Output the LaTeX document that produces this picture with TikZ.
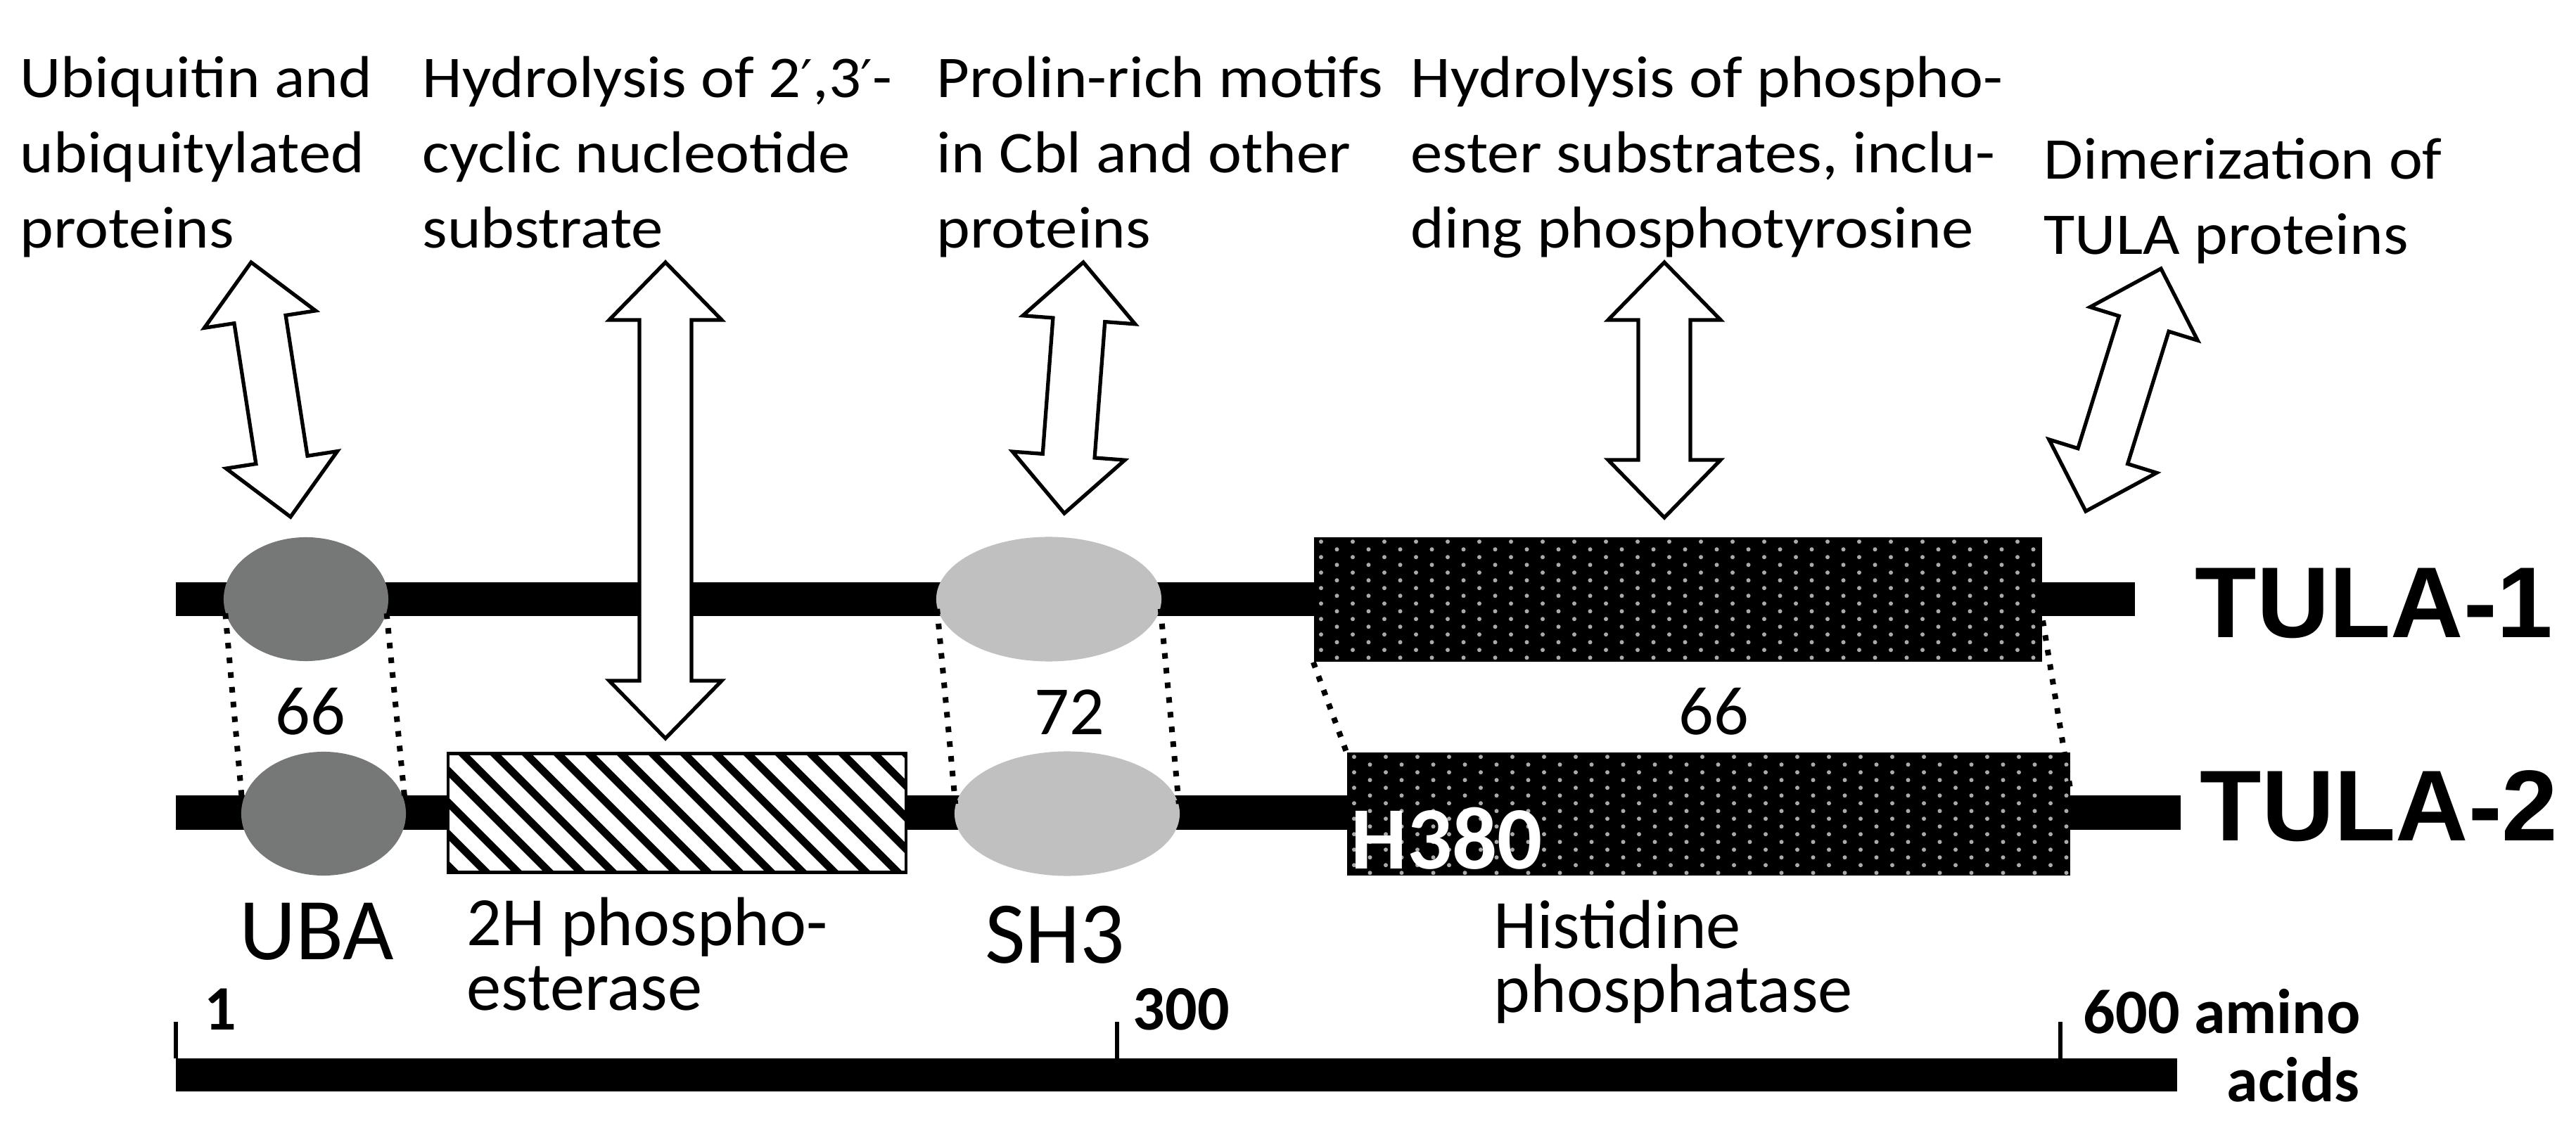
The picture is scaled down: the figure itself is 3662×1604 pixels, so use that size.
\documentclass[tikz,border=0pt]{standalone}
\usepackage{fontspec}
\setmainfont{Carlito}
\newfontfamily\toplabelfont{Carlito}[FakeStretch=1.08]
\newfontfamily\tulafont{Liberation Sans}
\newfontfamily\primefont{DejaVu Sans}
\usetikzlibrary{calc,shapes.geometric}
\definecolor{ubagray}{RGB}{118,120,119}
\definecolor{shgray}{RGB}{192,192,192}
\definecolor{dotgray}{RGB}{170,170,170}
\newcommand\blockarrow[2]{%
  \path ($(#1)!0.82cm!(#2)$) coordinate (ah1) ($(#2)!0.82cm!(#1)$) coordinate (ah2);
  \draw[arrowbox] (#1) -- ($(ah1)!0.80cm!90:(#1)$) -- ($(ah1)!0.37cm!90:(#1)$)
    -- ($(ah2)!0.37cm!-90:(#2)$) -- ($(ah2)!0.80cm!-90:(#2)$) -- (#2)
    -- ($(ah2)!0.80cm!90:(#2)$) -- ($(ah2)!0.37cm!90:(#2)$)
    -- ($(ah1)!0.37cm!-90:(#1)$) -- ($(ah1)!0.80cm!-90:(#1)$) -- cycle;}
\begin{document}
\begin{tikzpicture}[x=0.01cm,y=-0.01cm,
  lbl/.style={inner sep=0pt, anchor=base west, font=\toplabelfont\fontsize{23.9pt}{28pt}\selectfont},
  domlbl/.style={inner sep=0pt, anchor=base west, align=left, font=\fontsize{28pt}{26pt}\selectfont},
  biglbl/.style={inner sep=0pt, anchor=base, font=\fontsize{35.6pt}{36pt}\selectfont},
  numlbl/.style={inner sep=0pt, anchor=base, font=\fontsize{27.9pt}{28pt}\selectfont},
  scalelbl/.style={inner sep=0pt, anchor=base west, font=\bfseries\fontsize{25.6pt}{26pt}\selectfont},
  tulalbl/.style={inner sep=0pt, anchor=base west, font=\tulafont\bfseries\fontsize{40.7pt}{41pt}\selectfont},
  uba/.style={ellipse, fill=ubagray, minimum width=2.34cm, minimum height=1.76cm, inner sep=0pt},
  sh/.style={ellipse, fill=shgray, minimum width=3.2cm, minimum height=1.77cm, inner sep=0pt},
  dotbox/.style={rectangle, fill=black, inner sep=0pt},
  hatchbox/.style={rectangle, fill=white, inner sep=0pt, minimum width=6.49cm, minimum height=1.68cm},
  homol/.style={line width=0.08cm, dash pattern=on 0.08cm off 0.13cm},
  arrowbox/.style={draw=black, fill=white, line width=1.5pt, line join=miter},
  tick/.style={line width=1.5pt}]
\useasboundingbox (0,0) rectangle (3662,1604);
% protein backbones
\fill (250,828) rectangle (3035,876);
\fill (250,1131) rectangle (3100,1180);
% domains
\node[uba] (uba1) at (435,852) {};
\node[uba] (uba2) at (460,1157) {};
\node[sh] (sh1) at (1491,852) {};
\node[sh] (sh2) at (1517,1157) {};
\node[hatchbox] (hb) at (962.5,1156) {};
\begin{scope}
  \clip (hb.north west) rectangle (hb.south east);
  \foreach \k in {-4,...,15} \draw[line width=0.11cm] ($(hb.north west)+({\k*45},-20)$) -- ++(210,210);
\end{scope}
\draw[line width=1.3pt] (hb.north west) rectangle (hb.south east);
\node[dotbox, minimum width=10.35cm, minimum height=1.77cm] (pb1) at (2385.5,852.5) {};
\node[dotbox, minimum width=10.28cm, minimum height=1.75cm] (pb2) at (2429,1157.5) {};
\foreach \bx in {pb1,pb2} {
  \begin{scope}
    \clip (\bx.north west) rectangle (\bx.south east);
    \foreach \i in {0,...,46} \foreach \j in {0,...,8}
      \fill[dotgray] ($(\bx.north west)+({11+\i*22.5},{7+\j*22+11*mod(\i,2)})$) circle (0.03cm);
  \end{scope}
}
% homology connectors
\draw[homol] (uba1.190) -- (uba2.172);
\draw[homol] (uba1.350) -- (uba2.8);
\draw[homol] (sh1.185) -- (sh2.175);
\draw[homol] (sh1.355) -- (sh2.5);
\draw[homol] (pb1.south west) -- (pb2.north west);
\draw[homol] ($(pb1.east)+(0,30)$) -- ($(pb2.east)+(0,-30)$);
% identity numbers
\node[numlbl] (n1) at (441,1045) {66};
\node[numlbl] (n2) at (1520,1045) {72};
\node[numlbl] (n3) at (2436,1045) {66};
\node[anchor=base west, inner sep=0pt, text=white, font=\bfseries\fontsize{36pt}{36pt}\selectfont] (h380) at (1920,1236) {H380};
% top labels
\node[lbl] (t1a) at (28,139) {Ubiquitin and};
\node[lbl] (t1b) at (28,246) {ubiquitylated};
\node[lbl] (t1c) at (28,353) {proteins};
\node[lbl] (t2a) at (600,139) {Hydrolysis of 2{\primefont\fontsize{21pt}{28pt}\selectfont ′},3{\primefont\fontsize{21pt}{28pt}\selectfont ′}-};
\node[lbl] (t2b) at (600,246) {cyclic nucleotide};
\node[lbl] (t2c) at (600,353) {substrate};
\node[lbl] (t3a) at (1331,139) {Prolin-rich motifs};
\node[lbl] (t3b) at (1331,246) {in Cbl and other};
\node[lbl] (t3c) at (1331,353) {proteins};
\node[lbl] (t4a) at (2005,139) {Hydrolysis of phospho-};
\node[lbl] (t4b) at (2005,246) {ester substrates, inclu-};
\node[lbl] (t4c) at (2005,353) {ding phosphotyrosine};
\node[lbl] (t5a) at (2905,255) {Dimerization of};
\node[lbl] (t5b) at (2905,362) {TULA proteins};
% arrows
\coordinate (a1t) at (357,373); \coordinate (a1b) at (413,735);
\coordinate (a2t) at (946,373); \coordinate (a2b) at (946,1050);
\coordinate (a3t) at (1540,373); \coordinate (a3b) at (1513,730);
\coordinate (a4t) at (2366,373); \coordinate (a4b) at (2366,736);
\coordinate (a5t) at (3072,382); \coordinate (a5b) at (2965,727);
\blockarrow{a1t}{a1b}
\blockarrow{a2t}{a2b}
\blockarrow{a3t}{a3b}
\blockarrow{a4t}{a4b}
\blockarrow{a5t}{a5b}
% domain labels
\node[biglbl] (lu) at (450,1365) {UBA};
\node[biglbl] (ls) at (1500,1370) {SH3};
\node[domlbl] (l2) at (663,1436) {2H phospho-\\esterase};
\node[domlbl] (l4) at (2123,1440) {Histidine\\phosphatase};
% protein names
\node[tulalbl] (tula1) at (3120,907) {TULA-1};
\node[tulalbl] (tula2) at (3127,1196) {TULA-2};
% scale
\fill (250,1505) rectangle (3095,1552);
\draw[tick] (250,1453) -- (250,1505);
\draw[tick] (1588,1453) -- (1588,1505);
\draw[tick] (2929,1453) -- (2929,1505);
\node[scalelbl] (s1) at (290,1465) {1};
\node[scalelbl] (s300) at (1610,1465) {300};
\node[scalelbl] (s600) at (2961,1469) {600 amino};
\node[scalelbl, anchor=base east] (sacids) at (3355,1567) {acids};
\end{tikzpicture}
\end{document}
